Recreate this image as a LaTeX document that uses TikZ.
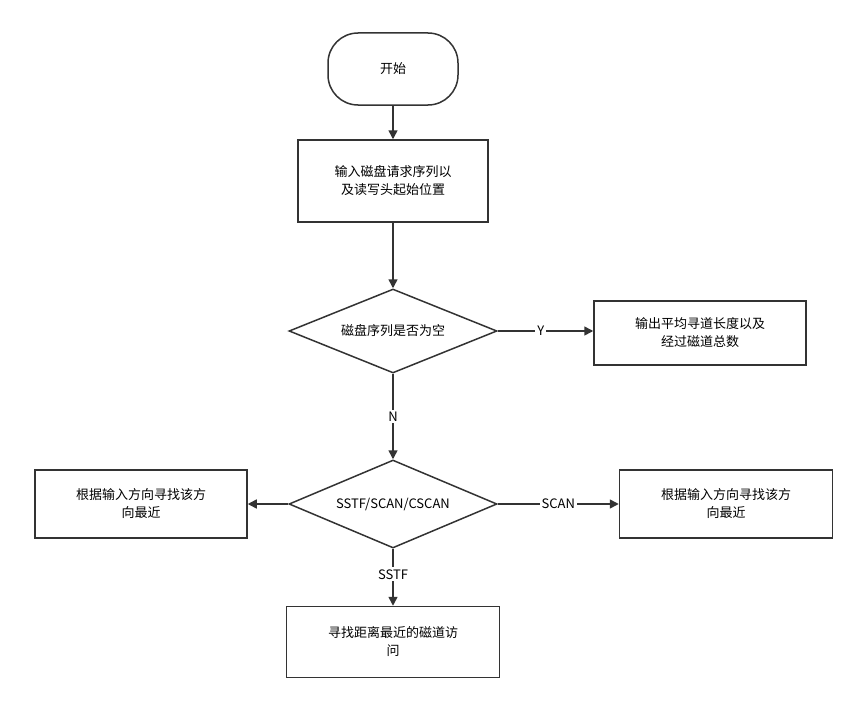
\documentclass[tikz,border=0pt]{standalone}
\usepackage{fontspec}
\setmainfont{Noto Sans CJK SC}
\usetikzlibrary{shapes.geometric,arrows.meta}
\definecolor{ln}{HTML}{333333}
\begin{document}
\begin{tikzpicture}[x=1pt,y=-1pt,
  every node/.style={font=\fontsize{13}{18}\selectfont, text=black},
  box/.style={draw=ln, line width=1.5pt, minimum width=#1, align=center, inner sep=0pt},
  dia/.style={draw=ln, line width=1.5pt, diamond, aspect=2.5, inner sep=0pt, minimum width=208pt, minimum height=84pt},
  arr/.style={draw=ln, line width=1.5pt, -{Triangle[length=9pt,width=9pt]}},
  lab/.style={fill=white, inner sep=2pt}]
\useasboundingbox (0,0) rectangle (865,709);
\node[box=130pt, minimum height=72pt, rounded corners=30pt] (s) at (393,69) {开始};
\node[box=190pt, minimum height=82pt] (in) at (393,181) {输入磁盘请求序列以\\及读写头起始位置};
\node[dia] (d1) at (393,331) {磁盘序列是否为空};
\node[box=212pt, minimum height=64pt] (out) at (700,333) {输出平均寻道长度以及\\经过磁道总数};
\node[dia, minimum height=88pt] (d2) at (393,504) {SSTF/SCAN/CSCAN};
\node[box=212pt, minimum height=68pt] (l) at (141,504) {根据输入方向寻找该方\\向最近};
\node[box=213pt, minimum height=68pt] (r) at (726,504) {根据输入方向寻找该方\\向最近};
\node[box=213pt, minimum height=71pt] (b) at (393,642) {寻找距离最近的磁道访\\问};
\draw[arr] (s) -- (in);
\draw[arr] (in) -- (d1);
\draw[arr] (d1.east) -- node[lab,pos=0.45]{Y} (out.west |- d1.east);
\draw[arr] (d1) -- node[lab]{N} (d2);
\draw[arr] (d2) -- (l);
\draw[arr] (d2.east) -- node[lab,pos=0.5]{SCAN} (r.west |- d2.east);
\draw[arr] (d2) -- node[lab,pos=0.45]{SSTF} (b);
\end{tikzpicture}
\end{document}
